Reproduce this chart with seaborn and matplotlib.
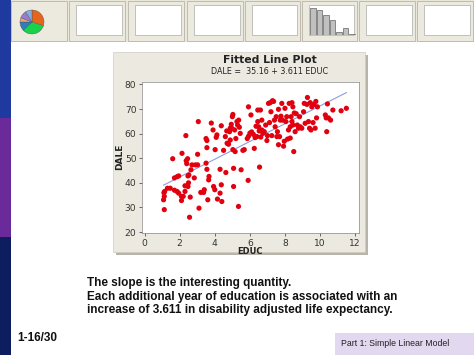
import matplotlib
matplotlib.use("Agg")
import matplotlib.pyplot as plt
from matplotlib.patches import Rectangle
import numpy as np
import pandas as pd
import seaborn as sns

# ---------------- data ----------------
educ = [1.12, 1.08, 1.12, 1.14, 1.10, 1.30, 1.46, 1.60, 1.70, 1.70, 1.85, 1.94, 1.85, 1.94,
        2.10, 2.10, 2.13, 2.20, 2.30, 2.30, 2.35, 2.37, 2.40, 2.45, 2.50, 2.47, 2.47, 2.52,
        2.60, 2.56, 2.64, 2.70, 2.90, 2.83, 3.02, 3.02, 3.06, 3.10, 3.20, 3.36, 3.40, 3.50,
        3.50, 3.55, 3.55, 3.55, 3.60, 3.65, 3.67, 3.80, 3.90, 3.93, 4.00, 4.02, 4.08, 4.12,
        4.15, 4.30, 4.30, 4.37, 4.37, 4.40, 4.50, 4.60, 4.63, 4.68, 4.70, 4.78, 4.84, 4.88,
        4.94, 4.97, 5.00, 5.03, 5.03, 5.07, 5.07, 5.13, 5.16, 5.26, 5.30, 5.36, 5.40, 5.35,
        5.45, 5.50, 5.60, 5.68, 5.90, 5.92, 5.92, 6.00, 6.06, 6.10, 6.20, 6.25, 6.30, 6.40,
        6.45, 6.45, 6.50, 6.53, 6.55, 6.60, 6.62, 6.68, 6.74, 6.82, 6.90, 6.97, 7.00, 7.06,
        7.12, 7.16, 7.20, 7.25, 7.29, 7.35, 7.40, 7.44, 7.50, 7.54, 7.57, 7.63, 7.63, 7.69,
        7.73, 7.77, 7.82, 7.86, 7.92, 7.96, 8.00, 8.05, 8.10, 8.15, 8.20, 8.24, 8.30, 8.30,
        8.35, 8.40, 8.40, 8.45, 8.45, 8.50, 8.53, 8.58, 8.64, 8.70, 8.77, 8.83, 8.87, 8.96,
        9.06, 9.10, 9.15, 9.25, 9.28, 9.34, 9.40, 9.44, 9.48, 9.53, 9.60, 9.66, 9.72, 9.76,
        9.80, 9.85, 10.30, 10.35, 10.38, 10.42, 10.48, 10.60, 10.73, 11.20, 11.50,
        4.88, 4.75, 5.20, 6.68, 5.85, 6.35]
dale = [29.1, 33.1, 34.5, 36.5, 36.0, 37.8, 37.8, 49.8, 37.0, 42.0, 42.5, 42.8, 36.5, 35.8,
        34.5, 32.8, 52.0, 34.5, 38.8, 36.5, 59.2, 49.0, 47.8, 49.8, 40.0, 42.8, 38.5, 43.2,
        34.2, 26.0, 45.3, 47.3, 47.3, 42.0, 51.6, 47.3, 64.9, 29.7, 36.1, 36.1, 37.2, 48.0,
        58.0, 57.2, 54.3, 45.5, 33.1, 41.2, 42.6, 64.3, 61.5, 38.5, 37.2, 53.5, 58.5, 59.5,
        33.4, 45.5, 35.8, 63.2, 39.2, 32.4, 53.2, 58.8, 44.2, 61.1, 56.1, 55.7, 60.8, 62.2,
        63.8, 62.2, 66.9, 67.8, 53.5, 45.9, 38.5, 61.5, 52.7, 64.9, 63.5, 65.5, 62.6, 30.4,
        60.1, 45.3, 53.2, 53.5, 41.0, 70.9, 58.9, 60.2, 67.6, 60.7, 59.7, 54.0, 58.4, 58.8,
        64.9, 69.6, 62.8, 61.1, 46.4, 69.6, 58.6, 61.5, 60.1, 60.8, 63.5, 57.2, 59.2, 72.3,
        64.5, 72.6, 68.9, 59.2, 73.4, 73.1, 65.5, 62.8, 66.9, 58.8, 60.8, 69.9, 55.5, 58.8,
        65.5, 67.1, 72.3, 65.5, 54.9, 56.9, 70.3, 64.9, 66.9, 57.8, 61.5, 72.3, 62.8, 58.2,
        66.9, 64.9, 72.6, 70.9, 63.5, 52.7, 68.4, 60.8, 68.1, 63.5, 62.2, 66.9, 62.8, 62.2,
        68.9, 72.3, 64.2, 71.9, 74.7, 64.9, 62.2, 72.6, 61.5, 70.9, 64.5, 71.9, 62.2, 73.1,
        66.4, 70.9, 67.6, 66.4, 60.8, 72.1, 66.4, 65.5, 69.6, 69.3, 70.3,
        57.4, 56.0, 58.0, 65.5, 58.0, 63.0]
intercept = 35.16
slope = 3.611

x_ticks = [0, 2, 4, 6, 8, 10, 12]
y_ticks = [20, 30, 40, 50, 60, 70, 80]

body_lines = ["The slope is the interesting quantity.",
              "Each additional year of education is associated with an",
              "increase of 3.611 in disability adjusted life expectancy."]

pie_vals = [30, 33, 12, 6, 10, 9]
pie_cols = ["#e8641c", "#19d24a", "#2a7fc0", "#f0a070", "#9a7ad8", "#7fb0e0"]
hist_vals = [10, 9, 7.5, 5.5, 1, 2.5, 0.4]

df = pd.DataFrame({"EDUC": educ, "DALE": dale})
fit_x = np.array([min(educ), max(educ)])
fit_df = pd.DataFrame({"EDUC": fit_x, "DALE": intercept + slope * fit_x})

# ---------------- figure ----------------
W, H = 474, 355
fig = plt.figure(figsize=(W / 100, H / 100), dpi=100)
fig.patch.set_facecolor("white")


def rect(x0, y0, x1, y1, z=-10, **kw):
    r = Rectangle((x0 / W, 1 - y1 / H), (x1 - x0) / W, (y1 - y0) / H,
                  transform=fig.transFigure, zorder=z, **kw)
    fig.add_artist(r)
    return r


# left coloured bar
rect(0, 0, 11, 118, facecolor="#1f3a9e", edgecolor="none")
rect(0, 118, 11, 237, facecolor="#6a2a9a", edgecolor="none")
rect(0, 237, 11, 355, facecolor="#0d1d5e", edgecolor="none")

# thumbnail strip
rect(11, 0, 474, 42, facecolor="#e9e6da", edgecolor="none")
thumbs = [(11, 67), (69, 125), (128, 184), (187, 243), (245, 300), (302, 357), (359, 415), (417, 473)]
for (a, b) in thumbs:
    rect(a, 1, b, 41, z=-9, facecolor="#ece9df", edgecolor="#b8b4a8", linewidth=0.6)
    if (a, b) != thumbs[0]:
        rect(a + 7, 5, b - 3, 35, z=-8, facecolor="white", edgecolor="#999999", linewidth=0.4)

# pie thumbnail
axp = fig.add_axes([14 / W, 1 - 37 / H, 36 / W, 30 / H])
axp.pie(pie_vals, colors=pie_cols, startangle=90, counterclock=False,
        wedgeprops=dict(edgecolor="#555555", linewidth=0.3))
axp.set_aspect("equal")
axp.axis("off")

# histogram thumbnail
axh = fig.add_axes([309 / W, 1 - 35 / H, 47 / W, 30 / H])
axh.bar(range(len(hist_vals)), hist_vals, width=0.9, color="#c0c0c0", edgecolor="#444444", linewidth=0.4)
axh.set_xlim(-0.6, len(hist_vals) - 0.4)
axh.set_ylim(0, 11)
axh.axis("off")

# chart panel (beige) with shadow
rect(116, 55, 368, 255, z=-7, facecolor="#b8b4ac", edgecolor="none")
rect(113, 52, 365, 252, z=-6, facecolor="#ece9e1", edgecolor="#d0ccc0", linewidth=0.5)

# main axes
ax = fig.add_axes([142 / W, 1 - 233 / H, (359 - 142) / W, (233 - 82) / H])
ax.set_facecolor("white")
sns.lineplot(data=fit_df, x="EDUC", y="DALE", ax=ax, color="#8c9ce0", linewidth=0.8)
sns.scatterplot(data=df, x="EDUC", y="DALE", ax=ax, color="#e00010", s=14,
                edgecolor="none", linewidth=0, zorder=3)
ax.set_xlim(-0.15, 12.22)
ax.set_ylim(19.6, 81.0)
ax.set_xticks(x_ticks)
ax.set_yticks(y_ticks)
ax.tick_params(labelsize=6.6, colors="#333333", length=2.5, width=0.5, pad=1.5)
for s in ax.spines.values():
    s.set_color("#888888")
    s.set_linewidth(0.5)
ax.set_xlabel("")
ax.set_ylabel("")

fig.text(270 / W, 1 - 60 / H, "Fitted Line Plot", ha="center", va="center",
         fontsize=7.8, fontweight="bold", color="#222222")
fig.text(270 / W, 1 - 71 / H, "DALE =  35.16 + 3.611 EDUC", ha="center", va="center",
         fontsize=5.8, color="#222222")
fig.text(120 / W, 1 - 157 / H, "DALE", ha="center", va="center", rotation=90,
         fontsize=6.5, fontweight="bold", color="#222222")
fig.text(250 / W, 1 - 251.5 / H, "EDUC", ha="center", va="center",
         fontsize=6.0, fontweight="bold", color="#222222")

# body text
for i, line in enumerate(body_lines):
    fig.text(87 / W, 1 - (283 + i * 13.7) / H, line, ha="left", va="center",
             fontsize=8.5, fontweight="bold", family="Liberation Sans", color="#111111")

# footer
fig.text(17 / W, 1 - 338 / H, "1-16/30", ha="left", va="center",
         fontsize=8.5, fontweight="bold", family="Liberation Sans", color="#111111")
rect(335, 333, 474, 355, facecolor="#e2d9f0", edgecolor="none")
fig.text(341 / W, 1 - 344 / H, "Part 1: Simple Linear Model", ha="left", va="center",
         fontsize=6.3, family="Liberation Sans", color="#222222")

fig.savefig("out.png", dpi=100, facecolor=fig.get_facecolor())
